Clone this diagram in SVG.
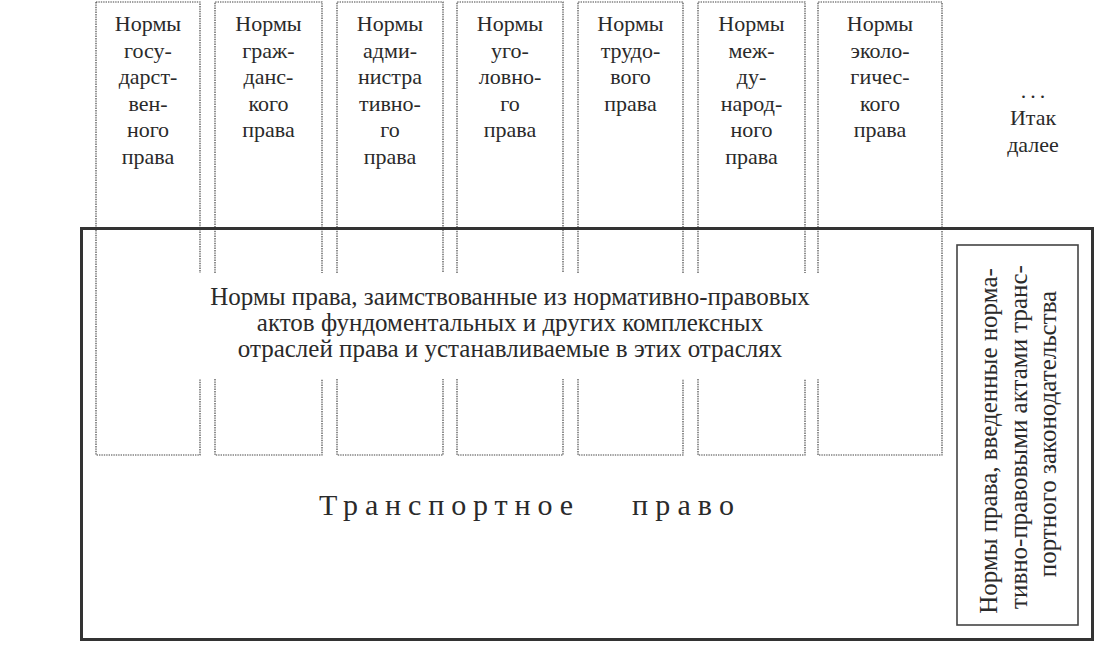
<svg xmlns="http://www.w3.org/2000/svg" width="1119" height="657" viewBox="0 0 1119 657">
<style>
  text { font-family: "Liberation Serif", "Times New Roman", serif; fill: #2a2a2a; }
  .col { font-size: 22px; text-anchor: middle; }
  .mid { font-size: 25px; text-anchor: middle; }
  .vert { font-size: 25px; text-anchor: middle; }
  .big { font-size: 30px; }
  .dot { fill: none; stroke: #444; stroke-width: 1.2; stroke-dasharray: 1.4 1; }
  .main { fill: none; stroke: #333; stroke-width: 3; }
  .inner { fill: none; stroke: #444; stroke-width: 1.6; }
</style>
<rect width="1119" height="657" fill="#fff"/>

<g id="connectors">
  <path class="dot" d="M96,2 V455 H200 V379 M96,2 H200 V273"/>
  <path class="dot" d="M215,273 V2 H322 V273 M215,379 V455 H322 V379"/>
  <path class="dot" d="M337,273 V2 H443 V273 M337,379 V455 H443 V379"/>
  <path class="dot" d="M457,273 V2 H563 V273 M457,379 V455 H563 V379"/>
  <path class="dot" d="M578,273 V2 H683 V273 M578,379 V455 H683 V379"/>
  <path class="dot" d="M698,273 V2 H805 V273 M698,379 V455 H805 V379"/>
  <path class="dot" d="M818,273 V2 H942 V455 H818 V379"/>
</g>

<g id="main-box">
  <rect class="main" x="81.5" y="228.5" width="1011" height="411"/>
  <text class="big" x="319" y="515" textLength="254" lengthAdjust="spacing">Транспортное</text>
  <text class="big" x="632" y="515" textLength="102" lengthAdjust="spacing">право</text>
</g>

<g id="col1">
  <text class="col" x="148" y="31">Нормы</text>
  <text class="col" x="148" y="57.5">госу-</text>
  <text class="col" x="148" y="84">дарст-</text>
  <text class="col" x="148" y="110.5">вен-</text>
  <text class="col" x="148" y="137">ного</text>
  <text class="col" x="148" y="163.5">права</text>
</g>
<g id="col2">
  <text class="col" x="268.5" y="31">Нормы</text>
  <text class="col" x="268.5" y="57.5">граж-</text>
  <text class="col" x="268.5" y="84">данс-</text>
  <text class="col" x="268.5" y="110.5">кого</text>
  <text class="col" x="268.5" y="137">права</text>
</g>
<g id="col3">
  <text class="col" x="390" y="31">Нормы</text>
  <text class="col" x="390" y="57.5">адми-</text>
  <text class="col" x="390" y="84">нистра</text>
  <text class="col" x="390" y="110.5">тивно-</text>
  <text class="col" x="390" y="137">го</text>
  <text class="col" x="390" y="163.5">права</text>
</g>
<g id="col4">
  <text class="col" x="510" y="31">Нормы</text>
  <text class="col" x="510" y="57.5">уго-</text>
  <text class="col" x="510" y="84">ловно-</text>
  <text class="col" x="510" y="110.5">го</text>
  <text class="col" x="510" y="137">права</text>
</g>
<g id="col5">
  <text class="col" x="630.5" y="31">Нормы</text>
  <text class="col" x="630.5" y="57.5">трудо-</text>
  <text class="col" x="630.5" y="84">вого</text>
  <text class="col" x="630.5" y="110.5">права</text>
</g>
<g id="col6">
  <text class="col" x="751.5" y="31">Нормы</text>
  <text class="col" x="751.5" y="57.5">меж-</text>
  <text class="col" x="751.5" y="84">ду-</text>
  <text class="col" x="751.5" y="110.5">народ-</text>
  <text class="col" x="751.5" y="137">ного</text>
  <text class="col" x="751.5" y="163.5">права</text>
</g>
<g id="col7">
  <text class="col" x="880" y="31">Нормы</text>
  <text class="col" x="880" y="57.5">эколо-</text>
  <text class="col" x="880" y="84">гичес-</text>
  <text class="col" x="880" y="110.5">кого</text>
  <text class="col" x="880" y="137">права</text>
</g>
<g id="etc">
  <text class="col" x="1035" y="98" letter-spacing="4">...</text>
  <text class="col" x="1033" y="125">Итак</text>
  <text class="col" x="1033" y="152">далее</text>
</g>

<g id="borrowed">
  <text class="mid" x="510" y="305">Нормы права, заимствованные из нормативно-правовых</text>
  <text class="mid" x="510" y="331">актов фундоментальных и других комплексных</text>
  <text class="mid" x="510" y="357">отраслей права и устанавливаемые в этих отраслях</text>
</g>

<g id="transport-norms">
  <rect class="inner" x="957" y="245" width="121" height="380"/>
  <text class="vert" transform="translate(997,441) rotate(-90)">Нормы права, введенные норма-</text>
  <text class="vert" transform="translate(1027,437) rotate(-90)">тивно-правовыми актами транс-</text>
  <text class="vert" transform="translate(1056,434) rotate(-90)">портного законодательства</text>
</g>
</svg>
